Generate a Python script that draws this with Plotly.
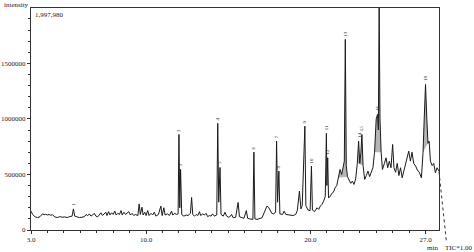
import plotly.graph_objects as go

# retention time (min) and intensity (counts)
time_min = [
    3.00, 3.10, 3.25, 3.40, 3.55, 3.70, 3.80, 3.90, 4.00, 4.10, 4.20, 4.30, 4.45, 4.60, 4.75, 4.90,
    5.05, 5.20, 5.35, 5.50, 5.58, 5.66, 5.80, 5.95, 6.10, 6.25, 6.35, 6.45, 6.55, 6.65, 6.75, 6.85,
    6.95, 7.05, 7.15, 7.25, 7.35, 7.45, 7.55, 7.62, 7.72, 7.80, 7.90, 8.00, 8.10, 8.18, 8.28, 8.38,
    8.48, 8.55, 8.65, 8.75, 8.85, 8.95, 9.05, 9.15, 9.25, 9.35, 9.50, 9.58, 9.65, 9.75, 9.82, 9.92,
    10.00, 10.10, 10.18, 10.30, 10.40, 10.50, 10.60, 10.75, 10.90, 10.98, 11.08, 11.16, 11.30, 11.42,
    11.55, 11.62, 11.75, 11.85, 11.95, 12.00, 12.05, 12.10, 12.17, 12.30, 12.45, 12.55, 12.70, 12.77,
    12.84, 12.95, 13.05, 13.15, 13.25, 13.32, 13.45, 13.55, 13.65, 13.75, 13.85, 13.95, 14.05, 14.15,
    14.30, 14.36, 14.42, 14.50, 14.56, 14.70, 14.80, 14.90, 15.00, 15.10, 15.20, 15.30, 15.45, 15.60,
    15.68, 15.80, 15.95, 16.10, 16.18, 16.30, 16.50, 16.56, 16.62, 16.75, 16.90, 17.05, 17.20, 17.35,
    17.45, 17.55, 17.65, 17.75, 17.88, 17.94, 18.00, 18.08, 18.14, 18.30, 18.40, 18.50, 18.65, 18.80,
    18.95, 19.10, 19.20, 19.33, 19.42, 19.50, 19.58, 19.66, 19.72, 19.85, 19.98, 20.06, 20.12, 20.25,
    20.40, 20.50, 20.60, 20.70, 20.80, 20.90, 20.97, 21.00, 21.05, 21.10, 21.20, 21.30, 21.40, 21.50,
    21.60, 21.70, 21.80, 21.90, 21.98, 22.06, 22.12, 22.18, 22.25, 22.35, 22.45, 22.55, 22.65, 22.75,
    22.85, 22.93, 23.00, 23.07, 23.13, 23.20, 23.30, 23.40, 23.50, 23.60, 23.70, 23.80, 23.90, 24.00,
    24.08, 24.13, 24.18, 24.23, 24.30, 24.38, 24.50, 24.60, 24.70, 24.80, 24.90, 25.00, 25.08, 25.18,
    25.28, 25.38, 25.48, 25.58, 25.68, 25.80, 25.90, 25.98, 26.08, 26.18, 26.28, 26.40, 26.50, 26.62,
    26.75, 26.85, 26.92, 27.00, 27.08, 27.15, 27.22, 27.30, 27.40, 27.50, 27.60, 27.70, 27.82,
]
intensity_k = [
    170, 140, 118, 112, 120, 145, 138, 142, 135, 140, 132, 138, 118, 112, 120, 115,
    118, 112, 120, 125, 190, 125, 118, 112, 115, 120, 140, 128, 145, 125, 135, 150,
    125, 118, 135, 155, 130, 150, 160, 130, 165, 135, 155, 140, 170, 135, 150, 140,
    175, 135, 160, 140, 150, 165, 135, 150, 130, 140, 130, 235, 140, 205, 135, 160,
    130, 175, 130, 150, 135, 160, 125, 140, 215, 130, 200, 135, 145, 130,
    170, 135, 150, 140, 145, 860, 200, 545, 140, 125, 135, 130, 150, 293,
    140, 125, 140, 130, 165, 130, 145, 135, 150, 120, 130, 125, 145, 125,
    135, 960, 250, 563, 140, 125, 160, 125, 115, 120, 140, 110, 115, 248,
    120, 110, 105, 175, 105, 100, 95, 701, 100, 95, 100, 110, 160, 215,
    205, 170, 150, 145, 160, 800, 250, 530, 145, 140, 170, 140, 135, 130,
    130, 140, 175, 350, 190, 220, 500, 935, 220, 180, 175, 575, 180, 165,
    200, 185, 215, 230, 260, 300, 870, 400, 650, 290, 300, 330, 340, 380,
    400, 470, 545, 500, 560, 620, 1716, 580, 480, 455, 420, 440, 410, 460,
    600, 800, 600, 700, 860, 580, 455, 490, 530, 480, 520, 560, 700, 1000,
    1040, 900, 1998, 1000, 700, 545, 600, 650, 560, 620, 560, 770, 560, 520,
    600, 490, 560, 470, 530, 600, 660, 710, 620, 700, 600, 575, 540, 520,
    470, 700, 1000, 1310, 1000, 780, 800, 620, 580, 600, 515, 560, 530,
]
intensity = [v * 1000 for v in intensity_k]

# labelled peaks
peak_numbers = ["1", "2", "3", "4", "5", "6", "7", "8", "9", "10", "11", "12", "13", "14", "15", "16", "17", "18"]
peak_times = [5.58, 12.00, 12.10, 14.36, 14.50, 16.56, 17.94, 18.08, 19.66, 20.06, 20.97, 21.05, 22.12, 22.93, 23.13, 24.08, 24.18, 27.00]

# integration windows shaded grey
shade_windows = [(21.70, 22.30), (22.80, 23.25), (23.85, 24.35), (26.80, 27.25)]

max_intensity = 1997980
x_range = [3.0, 27.82]
x_ticks = [3.0, 10.0, 20.0, 27.0]
x_ticktext = ["3.0", "10.0", "20.0", "27.0"]
y_ticks = [0, 500000, 1000000, 1500000]
y_ticktext = ["0", "500000", "1000000", "1500000"]

fig = go.Figure()

for (a, b) in shade_windows:
    xs = [t for t in time_min if a <= t <= b]
    ys = [intensity[i] for i, t in enumerate(time_min) if a <= t <= b]
    fig.add_trace(go.Scatter(
        x=xs + [xs[-1], xs[0]], y=ys + [ys[-1], ys[0]],
        fill="toself", fillcolor="rgba(150,150,150,0.7)", mode="none",
        hoverinfo="skip", showlegend=False))

fig.add_trace(go.Scatter(x=time_min, y=intensity, mode="lines",
                         line=dict(color="#1a1a1a", width=1), showlegend=False))

serif = "Liberation Serif"
for num, t in zip(peak_numbers, peak_times):
    idx = time_min.index(t)
    fig.add_annotation(x=t, y=intensity[idx], text=num, showarrow=False,
                       textangle=-90, yanchor="bottom", yshift=1,
                       font=dict(family=serif, size=5, color="#222"))

fig.add_annotation(xref="paper", yref="paper", x=-0.071, y=1.013, text="intensity",
                   showarrow=False, xanchor="left", yanchor="middle",
                   font=dict(family=serif, size=7, color="#222"))
fig.add_annotation(xref="paper", yref="paper", x=0.005, y=0.968, text=f"{max_intensity:,}",
                   showarrow=False, xanchor="left", yanchor="middle",
                   font=dict(family=serif, size=7, color="#222"))
fig.add_annotation(xref="paper", yref="paper", x=0.985, y=-0.079, text="min",
                   showarrow=False, xanchor="center", yanchor="middle",
                   font=dict(family=serif, size=7, color="#222"))
fig.add_annotation(xref="paper", yref="paper", x=1.010, y=-0.079, text="TIC*1.00",
                   showarrow=False, xanchor="left", yanchor="middle",
                   font=dict(family=serif, size=7, color="#222"))
fig.add_shape(type="line", xref="paper", yref="paper", x0=1.0, y0=0.263, x1=1.018, y1=-0.05,
              line=dict(color="#333", width=1, dash="dot"))

fig.update_layout(
    width=474, height=252,
    margin=dict(l=31, r=35, t=8, b=22, autoexpand=False),
    paper_bgcolor="white", plot_bgcolor="white",
    font=dict(family=serif, size=7, color="#222"),
    xaxis=dict(range=x_range, tickvals=x_ticks, ticktext=x_ticktext, automargin=False,
               showgrid=False, zeroline=False, showline=True, linecolor="#333",
               linewidth=1, mirror=True, ticks="outside", ticklen=3, tickcolor="#333",
               minor=dict(tick0=3, dtick=1, ticks="outside", ticklen=2, tickcolor="#333"),
               tickfont=dict(family=serif, size=7)),
    yaxis=dict(range=[0, max_intensity], tickvals=y_ticks, ticktext=y_ticktext, automargin=False,
               showgrid=False, zeroline=False, showline=True, linecolor="#333",
               linewidth=1, mirror=True, ticks="outside", ticklen=3, tickcolor="#333",
               minor=dict(dtick=100000, ticks="outside", ticklen=2, tickcolor="#333"),
               tickfont=dict(family=serif, size=7)),
)

fig.write_html("out.html")
